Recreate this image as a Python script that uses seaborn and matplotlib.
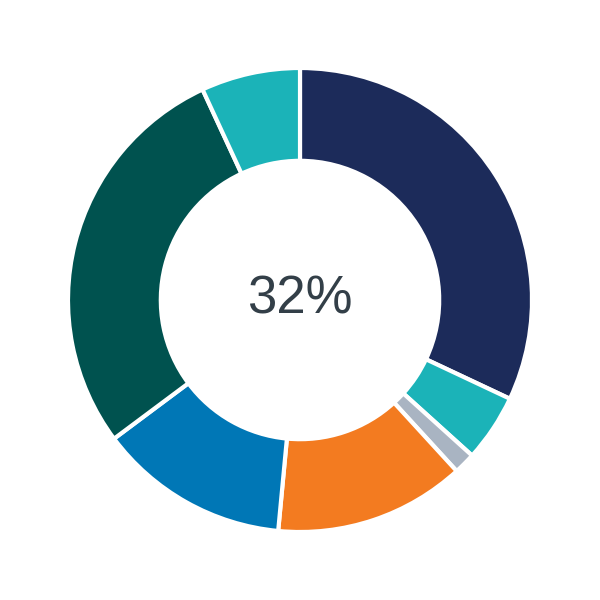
import matplotlib
matplotlib.use("Agg")
import matplotlib.pyplot as plt
import seaborn as sns

# slice data (clockwise from 12 o'clock)
labels = ["Navy", "Teal A", "Gray", "Orange", "Blue", "Dark green", "Teal B"]
shares = [32.0, 4.7, 1.5, 13.3, 13.3, 28.3, 6.9]
colors = ["#1C2B5A", "#1BB3B8", "#A9B4C2", "#F37B20", "#0077B6", "#00524F", "#1BB3B8"]
center_label = "32%"

sns.set_theme(style="white")
plt.rcParams['font.family'] = ['Liberation Sans', 'DejaVu Sans']

fig = plt.figure(figsize=(6, 6), dpi=100)
ax = fig.add_axes([0, 0, 1, 1])
ax.pie(shares, colors=sns.color_palette(colors), startangle=90, counterclock=False,
       radius=1.0, wedgeprops=dict(width=0.4, edgecolor="white", linewidth=3))
ax.text(0, 0, center_label, ha="center", va="center", fontsize=38, color="#333F48")
lim = 1.0 / (232 / 300)
ax.set_xlim(-lim, lim)
ax.set_ylim(-lim, lim)
ax.set_aspect("equal")
ax.axis("off")

fig.savefig("out.png", dpi=100, facecolor="white")
